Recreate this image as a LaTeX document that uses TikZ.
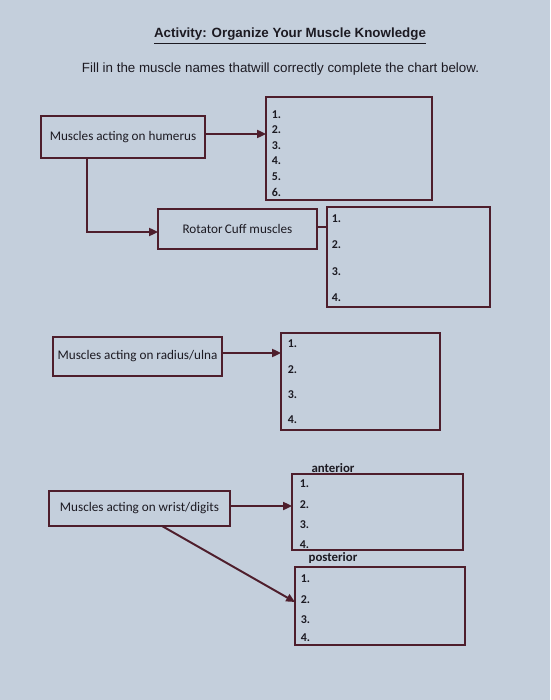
\documentclass[tikz,border=0pt]{standalone}
\usepackage{xcolor}
\usepackage{fontspec}
\setmainfont{Carlito}
\newfontfamily\headFont{Liberation Sans}
\usepackage{tikz}
\usetikzlibrary{positioning}
\usetikzlibrary{arrows.meta}

\definecolor{paperColor}{RGB}{196,207,220}
\definecolor{lineColor}{RGB}{78,30,44}
\definecolor{inkColor}{RGB}{28,26,34}

\begin{document}
\begin{tikzpicture}[
                    >={Stealth[inset=0pt,length=5pt,width=4.5pt]},
                line width = 1.1pt,
                nodeBox/.style = { rectangle, draw = lineColor, line width = 1.1pt, text = inkColor, font = \fontsize{7.5}{9}\selectfont, inner sep=0pt, outer sep=0pt },
                listBox/.style = { rectangle, draw = lineColor, line width = 1.1pt, inner sep=0pt, outer sep=0pt },
                number/.style = { anchor = west, font = \bfseries\fontsize{6.8}{8}\selectfont, inner sep=0.5pt, outer sep=0pt, text = inkColor },
                sideWord/.style = { anchor = south, font = \bfseries\fontsize{7.3}{9}\selectfont, inner sep=0.6pt, outer sep=0pt, text = inkColor },
                heading/.style = { font = \headFont\fontsize{7.6}{9}\selectfont, inner sep=0pt, text = inkColor },
                link/.style = { draw = lineColor, line width = 1.1pt },
                        ]
        \def\oneUnit{0.2cm}

        \fill[paperColor] (0,0) rectangle (55*\oneUnit,-70*\oneUnit);
        \useasboundingbox (0,0) rectangle (55*\oneUnit,-70*\oneUnit);

        \node[heading] (title) at (29.0*\oneUnit,-3.6*\oneUnit) {\bfseries\underline{Activity: Organize Your Muscle Knowledge}};
        \node[heading] (subtitle) at (28.05*\oneUnit,-6.9*\oneUnit) {Fill in the muscle names thatwill correctly complete the chart below.};

        % humerus
        \node[nodeBox, minimum width = 16.4*\oneUnit, minimum height = 4.2*\oneUnit] (humerusBox) at (12.3*\oneUnit,-13.7*\oneUnit) {Muscles acting on humerus};
        \node[listBox, minimum width = 16.6*\oneUnit, minimum height = 10.3*\oneUnit] (humerusList) at (34.9*\oneUnit,-14.85*\oneUnit) {};
        \node[number] (humerusNum1) at (27.1*\oneUnit,-11.43*\oneUnit) {1.};
        \node[number] (humerusNum2) at (27.1*\oneUnit,-13.0*\oneUnit) {2.};
        \node[number] (humerusNum3) at (27.1*\oneUnit,-14.53*\oneUnit) {3.};
        \node[number] (humerusNum4) at (27.1*\oneUnit,-16.1*\oneUnit) {4.};
        \node[number] (humerusNum5) at (27.1*\oneUnit,-17.67*\oneUnit) {5.};
        \node[number] (humerusNum6) at (27.1*\oneUnit,-19.23*\oneUnit) {6.};

        % rotator cuff
        \node[nodeBox, minimum width = 15.9*\oneUnit, minimum height = 4.0*\oneUnit] (rotatorBox) at (23.75*\oneUnit,-22.9*\oneUnit) {Rotator\,Cuff muscles};
        \node[listBox, minimum width = 16.3*\oneUnit, minimum height = 10.0*\oneUnit] (rotatorList) at (40.85*\oneUnit,-25.7*\oneUnit) {};
        \node[number] (rotatorNum1) at (33.1*\oneUnit,-21.83*\oneUnit) {1.};
        \node[number] (rotatorNum2) at (33.1*\oneUnit,-24.5*\oneUnit) {2.};
        \node[number] (rotatorNum3) at (33.1*\oneUnit,-27.17*\oneUnit) {3.};
        \node[number] (rotatorNum4) at (33.1*\oneUnit,-29.73*\oneUnit) {4.};

        % radius/ulna
        \node[nodeBox, minimum width = 16.9*\oneUnit, minimum height = 3.9*\oneUnit] (radiusBox) at (13.75*\oneUnit,-35.65*\oneUnit) {Muscles acting on radius/ulna};
        \node[listBox, minimum width = 15.9*\oneUnit, minimum height = 9.7*\oneUnit] (radiusList) at (36.05*\oneUnit,-38.15*\oneUnit) {};
        \node[number] (radiusNum1) at (28.7*\oneUnit,-34.33*\oneUnit) {1.};
        \node[number] (radiusNum2) at (28.7*\oneUnit,-36.93*\oneUnit) {2.};
        \node[number] (radiusNum3) at (28.7*\oneUnit,-39.5*\oneUnit) {3.};
        \node[number] (radiusNum4) at (28.7*\oneUnit,-42.0*\oneUnit) {4.};

        % wrist/digits
        \node[nodeBox, minimum width = 18.1*\oneUnit, minimum height = 3.5*\oneUnit] (wristBox) at (13.95*\oneUnit,-50.85*\oneUnit) {Muscles acting on wrist/digits};

        \node[listBox, minimum width = 17.1*\oneUnit, minimum height = 7.6*\oneUnit] (anteriorList) at (37.75*\oneUnit,-51.2*\oneUnit) {};
        \node[sideWord] (anterior) at (33.3*\oneUnit,-47.4*\oneUnit) {anterior};
        \node[number] (anteriorNum1) at (29.9*\oneUnit,-48.33*\oneUnit) {1.};
        \node[number] (anteriorNum2) at (29.9*\oneUnit,-50.5*\oneUnit) {2.};
        \node[number] (anteriorNum3) at (29.9*\oneUnit,-52.5*\oneUnit) {3.};
        \node[number] (anteriorNum4) at (29.9*\oneUnit,-54.45*\oneUnit) {4.};

        \node[listBox, minimum width = 17.0*\oneUnit, minimum height = 7.8*\oneUnit] (posteriorList) at (38.0*\oneUnit,-60.6*\oneUnit) {};
        \node[sideWord] (posterior) at (33.3*\oneUnit,-56.5*\oneUnit) {posterior};
        \node[number] (posteriorNum1) at (30.0*\oneUnit,-57.83*\oneUnit) {1.};
        \node[number] (posteriorNum2) at (30.0*\oneUnit,-59.93*\oneUnit) {2.};
        \node[number] (posteriorNum3) at (30.0*\oneUnit,-61.93*\oneUnit) {3.};
        \node[number] (posteriorNum4) at (30.0*\oneUnit,-63.8*\oneUnit) {4.};

        \draw [link, ->] ([yshift = 0.3*\oneUnit]humerusBox.east) -- ([yshift = 0.3*\oneUnit]humerusBox.east -| humerusList.west);
        \draw [link, ->] ([xshift = 4.6*\oneUnit]humerusBox.south west) |- ([yshift = -0.3*\oneUnit]rotatorBox.west);
        \draw [link] ([yshift = 0.2*\oneUnit]rotatorBox.east) -- ([yshift = 0.2*\oneUnit]rotatorBox.east -| rotatorList.west);

        \draw [link, ->] ([yshift = 0.35*\oneUnit]radiusBox.east) -- ([yshift = 0.35*\oneUnit]radiusBox.east -| radiusList.west);

        \draw [link, ->] ([yshift = 0.25*\oneUnit]wristBox.east) -- ([yshift = 0.25*\oneUnit]wristBox.east -| anteriorList.west);
        \draw [link, ->] ([xshift = 2.25*\oneUnit]wristBox.south) -- ([yshift = 0.4*\oneUnit]posteriorList.west);
        \end{tikzpicture}
\end{document}
